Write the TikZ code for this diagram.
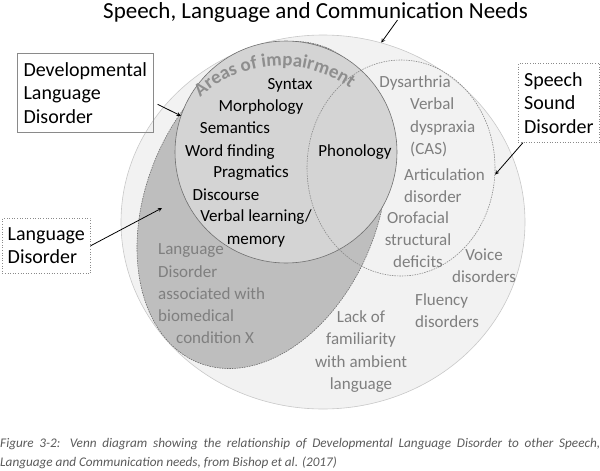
\documentclass[tikz,border=0pt]{standalone}
\usepackage{fontspec}
\setmainfont{Carlito}
\usetikzlibrary{shapes.geometric, decorations.text}
\definecolor{outerfill}{HTML}{F2F2F2}
\definecolor{outerline}{HTML}{C8C8C8}
\definecolor{ldfill}{HTML}{BEBEBE}
\definecolor{ldline}{HTML}{6E6E6E}
\definecolor{dldfill}{HTML}{D4D4D4}
\definecolor{dldline}{HTML}{707070}
\definecolor{ssdline}{HTML}{8C8C8C}
\definecolor{greytext}{HTML}{7F7F7F}
\definecolor{arctext}{HTML}{8E8E8E}
\definecolor{captext}{HTML}{5A5A5A}
\definecolor{boxline}{HTML}{8A8A8A}
\newcommand{\arcfont}{\fontsize{19}{19}\selectfont\bfseries\color{arctext}}

\begin{document}
\begin{tikzpicture}[x=1pt, y=1pt, >=stealth,
                    venn/.style={ellipse, inner sep=0pt, line width=0.6pt},
                    finedash/.style={dash pattern=on 1.5pt off 1pt},
                    term/.style={font=\fontsize{17}{22.3}\selectfont, inner sep=0pt, align=center},
                    faint/.style={term, text=greytext},
                    labelbox/.style={rectangle, font=\fontsize{20}{23.5}\selectfont, align=left,
                                     inner sep=0pt, anchor=north west, line width=0.6pt},
                    pointer/.style={->, line width=0.8pt}]
  \useasboundingbox (0,0) rectangle (600,-471);
  \node[venn, draw=outerline, fill=outerfill, minimum width=404pt, minimum height=374pt] (slcn) at (323,-222) {};
  \node[venn, draw=ldline, finedash, fill=ldfill, minimum width=340pt, minimum height=232pt, rotate=68] (ld) at (262,-205) {};
  \node[circle, draw=dldline, fill=dldfill, minimum size=222pt, inner sep=0pt, line width=0.6pt] (dld) at (286,-152) {};
  \node[venn, draw=ssdline, finedash, minimum width=188pt, minimum height=216pt] (ssd) at (401,-168) {};
  \path[decorate, decoration={text along path, text align=center, text={|\arcfont|Areas of impairment}}]
    (281,-186) ++(134:120pt) arc[start angle=134, end angle=53, radius=120pt];

  \node[term] (syntax) at (290,-85) {Syntax};
  \node[term] (morph) at (261,-107) {Morphology};
  \node[term] (sem) at (235,-128) {Semantics};
  \node[term] (wordf) at (230,-152) {Word finding};
  \node[term] (prag) at (251,-173) {Pragmatics};
  \node[term] (disc) at (226,-195) {Discourse};
  \node[term] (verbl) at (256,-228.5) {Verbal learning/\\memory};
  \node[term] (phon) at (355,-152) {Phonology};

  \node[faint] (dysar) at (415,-83) {Dysarthria};
  \node[faint, anchor=west, align=left] (dyspr) at (410,-127.5) {Verbal\\dyspraxia\\(CAS)};
  \node[faint, anchor=west, align=left] (artic) at (404,-185.5) {Articulation\\disorder};
  \node[faint] (orof) at (418,-239.5) {Orofacial\\structural\\deficits};
  \node[faint] (voice) at (484,-265.5) {Voice\\disorders};
  \node[faint, anchor=west, align=left] (fluen) at (415,-310.5) {Fluency\\disorders};
  \node[faint] (lackf) at (361,-351.5) {Lack of\\familiarity\\with ambient\\language};
  \node[faint, anchor=west, align=left] (ldbio) at (158,-294)
    {Language\\Disorder\\associated with\\biomedical\\\hspace*{18pt}condition X};

  \node[font=\fontsize{23}{23}\selectfont, inner sep=0pt, anchor=base] (title) at (315.5,-18)
    {Speech, Language and Communication Needs};
  \node[labelbox, draw=boxline, minimum width=136pt, minimum height=79pt] (dldbox) at (17,-53)
    {Developmental\\Language\\Disorder};
  \node[labelbox, draw=boxline, dotted, minimum width=81pt, minimum height=79pt] (ssdbox) at (518,-63)
    {Speech\\Sound\\Disorder};
  \node[labelbox, draw=boxline, dotted, minimum width=88pt, minimum height=55pt] (ldbox) at (2,-218)
    {Language\\Disorder};
  \coordinate (ldtip) at (162,-208);

  \draw[pointer] ([xshift=4pt, yshift=-11.5pt]dldbox.east) -- (dld.161);
  \draw[pointer] (ldbox.east) -- (ldtip);
  \draw[pointer] ([xshift=5pt]ssdbox.south west) -- (ssd.-4);
  \draw[pointer] ([xshift=82pt, yshift=-2pt]title.base) -- (slcn.72);

  \node[font=\fontsize{13.2}{19}\selectfont\itshape, text=captext, text width=600pt, align=justify,
        inner sep=0pt, anchor=north west] (caption) at (0,-438)
    {Figure 3-2: Venn diagram showing the relationship of Developmental Language Disorder to other Speech,\linebreak
     Language and Communication needs, from Bishop et al. (2017)};
\end{tikzpicture}
\end{document}
